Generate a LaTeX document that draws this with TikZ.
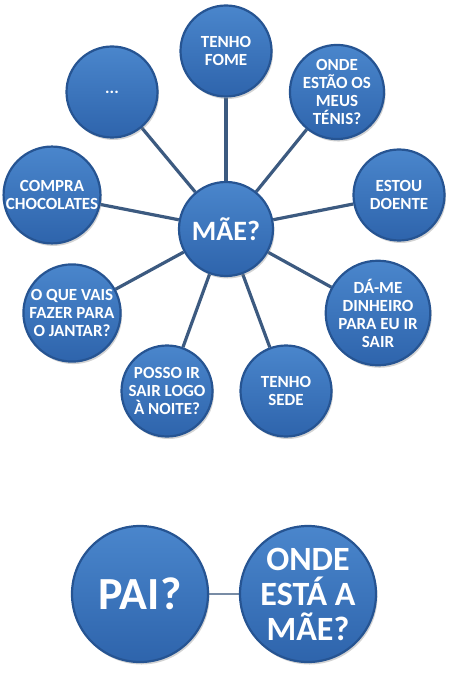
\documentclass[tikz,border=0pt]{standalone}
\usepackage{fontspec}
\setmainfont{Carlito}
\usetikzlibrary{shadows, backgrounds}
\definecolor{balltop}{RGB}{74,134,204}
\definecolor{balldark}{RGB}{46,100,172}
\definecolor{ballrim}{RGB}{38,84,146}
\definecolor{spokecol}{RGB}{60,90,128}
\definecolor{linkcol}{RGB}{120,140,165}
\tikzset{
  ball/.style={
    circle, draw=ballrim, line width=2.2pt, inner sep=0pt,
    top color=balltop, bottom color=balldark,
    text=white, font=\bfseries\fontsize{17}{18}\selectfont, align=center,
    drop shadow={shadow xshift=1.5pt, shadow yshift=-2.5pt, opacity=0.35}
  },
  small/.style={ball, minimum size=91pt},
  big/.style={ball, minimum size=136pt},
  spoke/.style={line width=3.2pt, color=spokecol},
  link/.style={line width=1.2pt, color=linkcol}
}

\begin{document}
\begin{tikzpicture}[x=1pt, y=-1pt]
\useasboundingbox (0,0) rectangle (460,684);

% Centre
\node[ball, minimum size=94pt, font=\bfseries\fontsize{28}{30}\selectfont] (mae) at (226,229) {MÃE?};

% Questions round the centre
\node[small] (fome) at (226,51) {TENHO\\FOME};
\node[small] (tenis) at (337,92) {ONDE\\ESTÃO OS\\MEUS\\TÉNIS?};
\node[small] (doente) at (399,195) {ESTOU\\DOENTE};
\node[small] (dinheiro) at (378,313) {DÁ-ME\\DINHEIRO\\PARA EU IR\\SAIR};
\node[small] (sede) at (286,391) {TENHO\\SEDE};
\node[small] (noite) at (167,391) {POSSO IR\\SAIR LOGO\\À NOITE?};
\node[small] (jantar) at (72,313) {O QUE VAIS\\FAZER PARA\\O JANTAR?};
\node[small] (chocolates) at (52,195) {COMPRA\\CHOCOLATES};
\node[small] (outros) at (112,92) {...};

% Spokes
\begin{scope}[on background layer]
\foreach \q in {fome, tenis, doente, dinheiro, sede, noite, jantar, chocolates, outros}
  \draw[spoke] (mae) -- (\q);
\end{scope}

% Father
\node[big, font=\bfseries\fontsize{46}{48}\selectfont] (pai) at (140,594) {PAI?};
\node[big, font=\bfseries\fontsize{34}{35}\selectfont] (ondemae) at (308,594) {ONDE\\ESTÁ A\\MÃE?};
\begin{scope}[on background layer]
\draw[link] (pai) -- (ondemae);
\end{scope}

\end{tikzpicture}
\end{document}
